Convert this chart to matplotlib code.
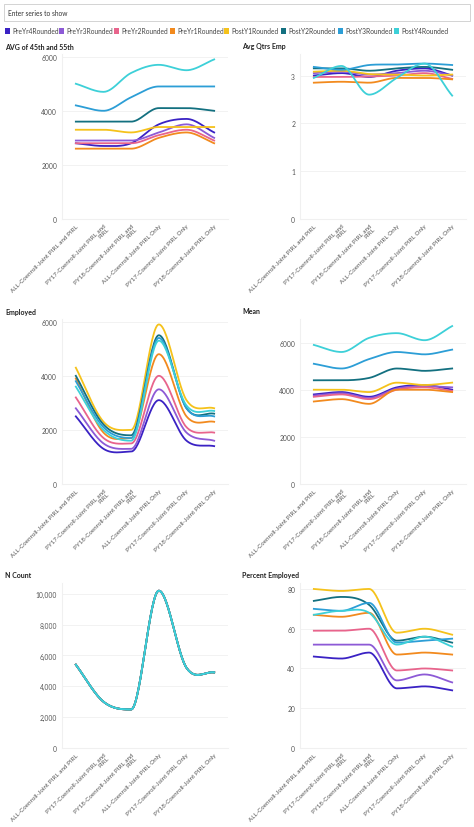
import numpy as np
import matplotlib
matplotlib.use("Agg")
import matplotlib.pyplot as plt
from matplotlib.patches import Rectangle
from matplotlib.ticker import FuncFormatter

categories = ["ALL-Coenroll-Joint PIRL and PIRL", "PY17-Coenroll-Joint PIRL and\nPIRL",
              "PY18-Coenroll-Joint PIRL and\nPIRL", "ALL-Coenroll-Joint PIRL Only",
              "PY17-Coenroll-Joint PIRL Only", "PY18-Coenroll-Joint PIRL Only"]
series = ["PreYr4Rounded", "PreYr3Rounded", "PreYr2Rounded", "PreYr1Rounded",
          "PostY1Rounded", "PostY2Rounded", "PostY3Rounded", "PostY4Rounded"]
colors = ["#3a22c4", "#8d5ad6", "#e8648c", "#f28a1e", "#f5c21b", "#137080", "#2c9ed6", "#3dd0d8"]

avg4555 = [[2800,2700,2800,3500,3700,3200],[2900,2900,2900,3200,3500,3000],
           [2800,2800,2800,3100,3300,2900],[2600,2600,2600,3000,3200,2800],
           [3300,3300,3200,3400,3400,3400],[3600,3600,3600,4100,4100,4000],
           [4200,4000,4500,4900,4900,4900],[5000,4700,5400,5700,5500,5900]]
avg_qtrs = [[3.0,3.05,2.97,3.1,3.15,3.0],[3.05,3.08,3.02,3.05,3.1,3.0],
            [2.97,2.97,2.98,3.0,3.05,2.93],[2.85,2.87,2.85,2.95,2.95,2.92],
            [3.08,3.1,3.03,3.02,3.0,3.02],[3.15,3.15,3.1,3.15,3.18,3.12],
            [3.18,3.12,3.22,3.23,3.25,3.22],[2.95,3.2,2.6,2.95,3.25,2.58]]
employed = [[2500,1300,1200,3100,1600,1400],[2800,1500,1300,3500,1900,1600],
            [3200,1700,1500,4000,2100,1900],[3900,1900,1700,4800,2500,2300],
            [4300,2300,2000,5900,3100,2800],[4000,2200,1800,5500,2800,2600],
            [3800,2100,1700,5400,2800,2500],[3600,2000,1600,5300,2900,2700]]
mean = [[3800,3900,3700,4100,4200,4000],[3750,3850,3650,4050,4150,4100],
        [3700,3800,3600,4000,4100,3950],[3500,3600,3400,4000,4000,3900],
        [4000,4000,3900,4300,4200,4300],[4400,4400,4500,4900,4800,4900],
        [5100,4900,5300,5600,5500,5700],[5900,5600,6200,6400,6100,6700]]
ncount_val = [5400,3000,2500,10200,5200,4900]
ncount = [ncount_val] * 8
pct = [[46,45,48,30,31,29],[52,52,52,34,37,33],[59,59,60,39,40,39],
       [67,66,68,47,48,47],[80,79,80,58,60,57],[74,76,72,54,56,53],
       [70,69,73,53,54,55],[67,69,68,52,56,51]]

def smooth(y):
    y = np.asarray(y, float); n = len(y)
    d = np.diff(y)
    m = np.zeros(n)
    m[0] = d[0]; m[-1] = d[-1]
    for i in range(1, n-1):
        m[i] = 0 if d[i-1]*d[i] <= 0 else (d[i-1]+d[i])/2
    xs, ys = [], []
    for i in range(n-1):
        t = np.linspace(0, 1, 30)
        h00 = 2*t**3-3*t**2+1; h10 = t**3-2*t**2+t; h01 = -2*t**3+3*t**2; h11 = t**3-t**2
        xs.append(i+t); ys.append(h00*y[i]+h10*m[i]+h01*y[i+1]+h11*m[i+1])
    return np.concatenate(xs), np.concatenate(ys)

plt.rcParams['font.family'] = ['Lato', 'DejaVu Sans']
fig = plt.figure(figsize=(4.74, 8.28), dpi=100)

def fx(px): return px/474
def fy(py): return 1-py/828

fig.patches.append(Rectangle((fx(4), fy(22)), fx(466), 17/828, transform=fig.transFigure,
                   fc="white", ec="#cccccc", lw=0.6))
fig.text(fx(8), fy(13.5), "Enter series to show", fontsize=4.8, va="center", color="#333")
xpos = [5, 59, 114, 170, 224, 281, 338, 394]
for x, s, c in zip(xpos, series, colors):
    fig.patches.append(Rectangle((fx(x), fy(35)), fx(5), 6/828, transform=fig.transFigure, fc=c, ec="none"))
    fig.text(fx(x+7), fy(32), s, fontsize=4.75, va="center", color="#444")

panels = [("AVG of 45th and 55th", avg4555, [0,2000,4000,6000], 6100, False),
          ("Avg Qtrs Emp", avg_qtrs, [0,1,2,3], 3.45, False),
          ("Employed", employed, [0,2000,4000,6000], 6100, False),
          ("Mean", mean, [0,2000,4000,6000], 7000, False),
          ("N Count", ncount, [0,2000,4000,6000,8000,10000], 10700, True),
          ("Percent Employed", pct, [0,20,40,60,80], 83, False)]
lefts = [62, 300]; tops = [55, 320, 584]; w = 166; h = 165
for k, (title, data, ticks, ymax, comma) in enumerate(panels):
    r, c = divmod(k, 2)
    ax = fig.add_axes([fx(lefts[c]), fy(tops[r]+h), fx(w), h/828])
    for vals, col in zip(data, colors):
        xs, ys = smooth(vals)
        ax.plot(xs, ys, color=col, lw=1.3)
    ax.set_xlim(-0.5, 5.5); ax.set_ylim(0, ymax)
    ax.set_yticks(ticks)
    if comma:
        ax.yaxis.set_major_formatter(FuncFormatter(lambda v, p: f"{int(v):,}"))
    ax.set_xticks(range(6))
    ax.set_xticklabels(categories, rotation=45, ha="right", rotation_mode="anchor",
                       fontsize=4.5, color="#555", linespacing=0.95)
    ax.tick_params(axis="y", labelsize=4.9, colors="#555", length=0)
    ax.tick_params(axis="x", length=0, pad=3)
    ax.grid(axis="y", color="#f0f0f0", lw=0.6)
    for s in ax.spines.values(): s.set_visible(False)
    ax.spines["left"].set_visible(True); ax.spines["left"].set_color("#f0f0f0")
    ax.spines["bottom"].set_visible(True); ax.spines["bottom"].set_color("#f0f0f0")
    fig.text(fx(5 if c == 0 else 242), fy(tops[r]-8), title, fontsize=5.0, fontweight="bold",
             color="#222", va="center")

fig.savefig("out.png", dpi=100)
